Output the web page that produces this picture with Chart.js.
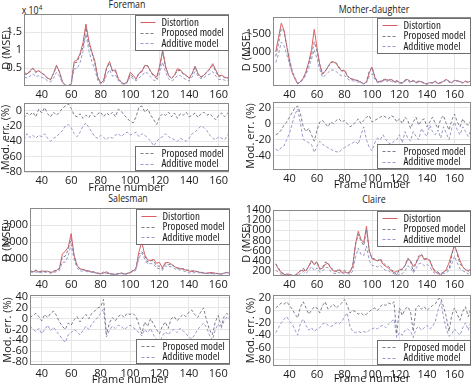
<!DOCTYPE html>
<html>
<head>
<meta charset="utf-8">
<script src="https://cdn.jsdelivr.net/npm/chart.js@4.4.1/dist/chart.umd.min.js"></script>
<style>
  html, body { margin: 0; padding: 0; background: #fff; overflow: hidden; }
  #wrap { position: relative; width: 474px; height: 384px; overflow: hidden; }
  canvas { position: absolute; }
  .txt { position: absolute; transform: translate(-50%, -50%) scaleX(0.8); white-space: nowrap;
         font-family: 'Open Sans', sans-serif; font-size: 11px; font-weight: 400; color: #1a1a1a; }
</style>
</head>
<body>
<div id="wrap">
  <div class="txt" style="left:127px;top:3px">Foreman</div>
  <div class="txt" style="left:374px;top:8px">Mother-daughter</div>
  <div class="txt" style="left:128px;top:197px">Salesman</div>
  <div class="txt" style="left:374px;top:198px">Claire</div>
  <div class="txt" style="left:32px;top:9px">x 10<sup style="font-size:8px">4</sup></div>
  <canvas id="foremanD"></canvas>
  <canvas id="foremanE"></canvas>
  <canvas id="motherD"></canvas>
  <canvas id="motherE"></canvas>
  <canvas id="salesD"></canvas>
  <canvas id="salesE"></canvas>
  <canvas id="claireD"></canvas>
  <canvas id="claireE"></canvas>
</div>
<script>
// frame numbers (x values)
const framesForeman = [28,30,32,34,36,38,40,42,44,46,48,50,52,54,56,58,60,62,64,66,68,70,72,74,76,78,80,82,84,86,88,90,92,94,96,98,100,102,104,106,108,110,112,114,116,118,120,122,124,126,128,130,132,134,136,138,140,142,144,146,148,150,152,154,156,158,160,162,164,166,168];
const framesRight = [30,32,34,36,38,40,42,44,46,48,50,52,54,56,58,60,62,64,66,68,70,72,74,76,78,80,82,84,86,88,90,92,94,96,98,100,102,104,106,108,110,112,114,116,118,120,122,124,126,128,130,132,134,136,138,140,142,144,146,148,150,152,154,156,158,160,162,164,166,168,170,172];
const framesSales = [32,34,36,38,40,42,44,46,48,50,52,54,56,58,60,62,64,66,68,70,72,74,76,78,80,82,84,86,88,90,92,94,96,98,100,102,104,106,108,110,112,114,116,118,120,122,124,126,128,130,132,134,136,138,140,142,144,146,148,150,152,154,156,158,160,162,164,166,168];
const xTicks = [40, 60, 80, 100, 120, 140, 160];

// Foreman, D in units of 10^4
const foremanDist = [0.38,0.33,0.42,0.50,0.40,0.42,0.36,0.30,0.22,0.18, 0.35,0.58,0.40,0.12,0.02,0.01,0.05,0.68,0.72,0.90, 1.20,1.72,1.25,0.95,0.70,0.25,0.08,0.15,0.50,0.68, 0.42,0.45,0.20,0.10,0.06,0.12,0.38,0.30,0.20,0.35, 0.40,0.58,0.55,0.40,0.30,0.25,0.55,1.00,0.55,0.30, 0.22,0.30,0.48,0.45,0.35,0.30,0.22,0.35,0.55,0.35, 0.25,0.30,0.40,0.48,0.62,0.45,0.28,0.30,0.25,0.22,0.33];
const foremanProp = [0.34,0.32,0.39,0.49,0.37,0.43,0.35,0.31,0.21,0.17, 0.34,0.55,0.39,0.12,0.02,0.01,0.05,0.64,0.66,0.86, 1.08,1.62,1.14,0.93,0.64,0.24,0.08,0.14,0.49,0.64, 0.41,0.41,0.20,0.10,0.06,0.11,0.33,0.25,0.18,0.37, 0.42,0.57,0.56,0.38,0.26,0.21,0.51,0.96,0.52,0.29, 0.20,0.29,0.43,0.43,0.33,0.29,0.20,0.33,0.53,0.32, 0.24,0.29,0.38,0.46,0.57,0.40,0.26,0.29,0.23,0.21,0.34];
const foremanAdd = [0.24,0.23,0.27,0.34,0.26,0.29,0.24,0.21,0.14,0.11, 0.22,0.38,0.28,0.09,0.02,0.01,0.04,0.48,0.48,0.65, 0.96,1.44,0.98,0.68,0.46,0.16,0.05,0.10,0.31,0.45, 0.27,0.31,0.14,0.07,0.04,0.09,0.26,0.21,0.14,0.23, 0.28,0.39,0.35,0.24,0.16,0.15,0.35,0.66,0.39,0.20, 0.14,0.19,0.29,0.29,0.22,0.18,0.14,0.25,0.40,0.27, 0.20,0.23,0.30,0.33,0.40,0.28,0.18,0.19,0.16,0.15,0.24];
const foremanErrProp = [-10,-3,-6,-2,-8,2,-3,4,-4,-8, -2,-6,-2,3,6,9,3,-6,-8,-4, -10,-6,-9,-2,-8,-4,-2,-8,-3,-6, -2,-8,2,-1,-6,-10,-14,-16,-8,5, 6,-2,2,-6,-12,-18,-8,-4,-6,-2, -8,-3,-10,-4,-6,-2,-8,-6,-3,-9, -4,-2,-6,-4,-8,-12,-6,-3,-8,-4,2];
const foremanErrAdd = [-38,-30,-35,-32,-36,-32,-34,-30,-36,-40, -36,-34,-30,-26,-20,-18,-22,-30,-34,-28, -20,-16,-22,-28,-34,-36,-32,-35,-38,-34, -36,-32,-30,-34,-30,-28,-32,-30,-28,-34, -30,-32,-36,-40,-46,-40,-36,-34,-30,-34, -36,-38,-40,-36,-38,-40,-36,-30,-28,-24, -20,-22,-26,-32,-36,-38,-34,-36,-38,-32,-26];

// Mother-daughter
const motherDist = [1000,1400,1820,1620,1150,720,380,200,60,120, 230,420,700,1050,1640,1100,620,340,430,560, 680,700,650,520,430,450,300,220,200,170, 150,110,60,120,380,540,260,110,130,160, 190,160,190,120,150,100,90,160,190,120, 160,100,140,120,80,60,100,90,140,70, 100,130,190,140,90,160,150,130,90,140, 110,150];
const motherProp = [860,1230,1670,1590,1170,780,430,240,70,135, 220,380,660,900,1280,1010,630,355,430,540, 695,700,675,550,440,470,300,210,195,175, 160,110,62,130,420,550,270,117,140,176, 205,170,210,130,153,106,90,173,198,113, 163,108,137,125,85,58,102,97,140,66, 106,143,190,129,94,179,153,125,95,140, 108,156];
const motherAdd = [680,924,1274,1166,920,634,380,224,71,120, 184,328,532,777,1050,792,484,252,310,392, 462,462,423,333,292,315,216,163,152,133, 111,95,58,96,266,356,198,90,104,138, 152,122,141,94,120,86,68,144,156,94, 144,84,112,113,70,50,98,81,120,64, 82,125,167,112,85,163,138,112,86,126, 92,138];
const motherErrProp = [-14,-12,-8,-2,2,8,14,20,22,12, -4,-10,-6,-14,-22,-8,2,4,0,-4, 2,0,4,6,2,4,0,-4,-2,2, 6,0,4,8,10,2,4,6,8,10, 8,6,10,8,2,6,0,8,4,-6, 2,8,-2,4,6,-4,2,8,0,-6, 6,10,0,-8,4,12,2,-4,6,0, -2,4];
const motherErrAdd = [-32,-34,-30,-28,-20,-12,0,12,18,0, -20,-22,-24,-26,-36,-28,-22,-26,-28,-30, -32,-34,-35,-36,-32,-30,-28,-26,-24,-22, -26,-14,-4,-20,-30,-34,-24,-18,-20,-14, -20,-24,-26,-22,-20,-14,-24,-10,-18,-22, -10,-16,-20,-6,-12,-16,-2,-10,-14,-8, -18,-4,-12,-20,-6,2,-8,-14,-4,-10, -16,-8];

// Salesman
const salesDist = [300,240,320,230,300,260,280,200,250,330, 450,1300,1450,1700,2500,1200,620,420,380,320, 290,240,200,150,120,170,250,150,110,100, 130,170,120,140,200,300,420,1400,2000,1250, 950,900,1000,750,800,480,780,800,700,560, 480,440,400,350,300,260,290,250,200,170, 160,200,210,160,140,120,170,200,150];
const salesProp = [306,254,352,239,288,281,286,220,285,350, 423,1118,1160,1564,2200,1176,645,395,388,346, 290,264,228,180,146,231,175,138,112,96, 135,184,122,154,216,330,437,1260,1440,1175, 817,900,900,600,576,413,733,656,700,582, 461,449,432,364,336,302,313,255,224,204, 157,160,147,150,148,103,177,220,153];
const salesAdd = [258,192,243,189,216,208,246,156,210,251, 315,806,812,1190,1850,960,471,294,296,275, 232,216,192,153,132,201,165,117,95,82, 114,146,96,118,176,252,336,1036,1360,1000, 703,738,700,465,432,326,593,560,546,448, 355,361,312,252,198,161,203,200,172,156, 134,140,126,128,126,98,163,208,147];
const salesErrProp = [2,6,10,4,-4,8,2,10,14,6, -6,-14,-20,-8,-12,-2,4,-6,2,8, 0,10,14,20,22,36,-30,-8,2,-4, 4,8,2,10,8,10,4,-10,-28,-6, -14,0,-10,-20,-28,-14,-6,-18,0,4, -4,2,8,4,12,16,8,2,12,20, -2,-20,-30,-6,6,-14,4,10,2];
const salesErrAdd = [-14,-20,-24,-18,-28,-20,-12,-22,-16,-24, -30,-38,-44,-30,-26,-20,-24,-30,-22,-14, -20,-10,-4,2,10,18,-34,-22,-14,-18, -12,-14,-20,-16,-12,-16,-20,-26,-32,-20, -26,-18,-30,-38,-46,-32,-24,-30,-22,-20, -26,-18,-22,-28,-34,-38,-30,-20,-14,-8, -16,-30,-40,-20,-10,-18,-4,4,-2];

// Claire
const claireDist = [330,240,160,130,120,130,110,115,160,200, 220,200,300,400,320,370,240,250,330,350, 250,200,190,220,170,180,160,180,300,730, 980,820,760,1080,600,440,420,400,420,330, 290,260,200,170,190,220,240,300,430,400, 290,350,460,520,420,440,400,260,180,150, 120,170,230,360,540,700,560,400,280,220, 210,230];
const claireProp = [343,259,179,143,137,140,112,108,141,212, 251,208,282,400,339,385,230,270,376,357, 265,220,198,238,190,212,173,173,300,715, 921,787,699,1015,588,449,437,400,445,363, 313,291,220,194,118,229,221,306,456,392, 191,364,497,530,445,440,416,281,198,177, 144,180,207,238,497,728,526,336,274,233, 189,239];
const claireAdd = [211,173,128,112,108,107,86,78,96,160, 189,152,204,288,211,259,173,195,264,266, 185,152,152,172,139,162,154,133,198,467, 647,525,502,691,408,308,302,280,311,251, 209,203,164,146,106,141,144,204,301,264, 162,245,340,354,302,334,280,192,148,150, 137,153,161,209,335,490,358,240,202,176, 143,189];
const claireErrProp = [4,8,12,10,14,8,2,-6,-12,6, 14,4,-6,0,6,4,-4,8,14,2, 6,10,4,8,12,18,8,-4,0,-2, -6,-4,-8,-6,-2,2,4,0,6,10, 8,12,10,14,-38,4,-8,2,6,-2, -34,4,8,2,6,0,4,8,10,18, 20,6,-10,-34,-8,4,-6,-16,-2,6, -10,4];
const claireErrAdd = [-36,-28,-20,-14,-10,-18,-22,-32,-40,-20, -14,-24,-32,-28,-34,-30,-28,-22,-20,-24, -26,-24,-20,-22,-18,-10,-4,-26,-34,-36, -34,-36,-34,-36,-32,-30,-28,-30,-26,-24, -28,-22,-18,-14,-44,-36,-40,-32,-30,-34, -44,-30,-26,-32,-28,-24,-30,-26,-18,0, 14,-10,-30,-42,-38,-30,-36,-40,-28,-20, -32,-18];

const FONT = "'Open Sans', sans-serif";
const INK = '#1a1a1a';
const GRID = '#e6e6e6';
const C_DIST = '#dc5e64', C_PROP = '#7c7c8e', C_ADD = '#9898cc';
const DASH = [3, 2];
const PADT = 12, PADR = 6;

const framePlugin = {
  id: 'frame',
  afterDatasetsDraw(chart) {
    const a = chart.chartArea, ctx = chart.ctx;
    ctx.save();
    ctx.strokeStyle = '#8a8a8a';
    ctx.lineWidth = 1;
    ctx.strokeRect(Math.round(a.left) + 0.5, Math.round(a.top) + 0.5,
                   Math.round(a.right - a.left) - 1, Math.round(a.bottom - a.top) - 1);
    ctx.restore();
  }
};

// legend drawn inside the axes box, like the original figure
function boxLegend(items, corner) {
  return {
    id: 'boxLegend',
    afterDraw(chart) {
      const ctx = chart.ctx, a = chart.chartArea;
      ctx.save();
      ctx.font = 'condensed 11px ' + FONT;
      const rowH = 10.5;
      const tw = Math.max(...items.map(it => ctx.measureText(it.label).width));
      const w = Math.round(26 + tw + 5);
      const h = Math.round(items.length * rowH + 3);
      const x = Math.round(a.right - w - 1) + 0.5;
      const y = corner === 'top' ? Math.round(a.top + 1) + 0.5 : Math.round(a.bottom - h - 2) + 0.5;
      ctx.fillStyle = '#fff';
      ctx.fillRect(x, y, w, h);
      ctx.strokeStyle = '#6e6e6e';
      ctx.lineWidth = 1;
      ctx.strokeRect(x, y, w, h);
      items.forEach((it, i) => {
        const cy = y + 1.5 + rowH * (i + 0.5);
        ctx.strokeStyle = it.color;
        ctx.setLineDash(it.dash || []);
        ctx.beginPath();
        ctx.moveTo(x + 5, Math.round(cy) + 0.5);
        ctx.lineTo(x + 20, Math.round(cy) + 0.5);
        ctx.stroke();
        ctx.setLineDash([]);
        ctx.fillStyle = INK;
        ctx.textBaseline = 'middle';
        ctx.fillText(it.label, x + 26, cy + 0.5);
      });
      ctx.restore();
    }
  };
}

const legendTop = [
  { label: 'Distortion', color: C_DIST },
  { label: 'Proposed model', color: C_PROP, dash: DASH },
  { label: 'Additive model', color: C_ADD, dash: DASH }
];
const legendErr = [
  { label: 'Proposed model', color: C_PROP, dash: DASH },
  { label: 'Additive model', color: C_ADD, dash: DASH }
];

function makePlot(id, p) {
  const cv = document.getElementById(id);
  const w = p.right - p.x0 + PADR;
  const h = p.bottom - p.top + PADT + p.xh;
  cv.width = w; cv.height = h;
  cv.style.left = p.x0 + 'px';
  cv.style.top = (p.top - PADT) + 'px';
  cv.style.width = w + 'px';
  cv.style.height = h + 'px';
  const font = { family: FONT, size: 11, style: 'condensed' };
  new Chart(cv, {
    type: 'line',
    data: {
      labels: p.frames,
      datasets: p.series.map(s => ({
        label: s.label, data: s.data, borderColor: s.color, borderWidth: 1,
        borderDash: s.dash || [], pointRadius: 0, tension: 0, fill: false
      }))
    },
    options: {
      responsive: false,
      animation: false,
      devicePixelRatio: 1,
      layout: { padding: { top: PADT, right: PADR, left: 0, bottom: 0 } },
      plugins: { legend: { display: false }, tooltip: { enabled: false } },
      scales: {
        x: {
          type: 'linear', min: p.xmin, max: p.xmax,
          afterBuildTicks: s => { s.ticks = xTicks.map(v => ({ value: v })); },
          afterFit: s => { s.height = p.xh; },
          grid: { color: GRID, drawTicks: false },
          border: { display: false },
          ticks: { font, color: INK, padding: 2, maxRotation: 0, autoSkip: false, callback: v => String(v) },
          title: { display: !!p.xtitle, text: p.xtitle || '', font, color: INK, padding: 0 }
        },
        y: {
          min: p.ymin, max: p.ymax,
          afterBuildTicks: s => { s.ticks = p.yticks.map(v => ({ value: v })); },
          afterFit: s => { s.width = p.left - p.x0; },
          grid: { color: GRID, drawTicks: false },
          border: { display: false },
          ticks: { font, color: INK, padding: 2, autoSkip: false, callback: v => String(v) },
          title: { display: true, text: p.ytitle, font: { family: FONT, size: 11, style: 'condensed', lineHeight: 1 },
                   color: INK, padding: { top: p.ytpad, bottom: 0 } }
        }
      }
    },
    plugins: [framePlugin, boxLegend(p.legend, p.legendPos)]
  });
}

makePlot('foremanD', {
  x0: 0, left: 24, right: 229, top: 14, bottom: 86, xh: 16,
  xmin: 28, xmax: 167, ymin: 0, ymax: 2, yticks: [0.5, 1, 1.5],
  ytitle: 'D (MSE)', ytpad: 1, frames: framesForeman,
  series: [
    { label: 'Additive model', data: foremanAdd, color: C_ADD, dash: DASH },
    { label: 'Proposed model', data: foremanProp, color: C_PROP, dash: DASH },
    { label: 'Distortion', data: foremanDist, color: C_DIST }
  ],
  legend: legendTop, legendPos: 'top'
});
makePlot('foremanE', {
  x0: 0, left: 24, right: 229, top: 103, bottom: 172, xh: 22, xtitle: 'Frame number',
  xmin: 28, xmax: 167, ymin: -80, ymax: 10, yticks: [-80, -60, -40, -20, 0],
  ytitle: 'Mod. err. (%)', ytpad: 0, frames: framesForeman,
  series: [
    { label: 'Proposed model', data: foremanErrProp, color: C_PROP, dash: DASH },
    { label: 'Additive model', data: foremanErrAdd, color: C_ADD, dash: DASH }
  ],
  legend: legendErr, legendPos: 'bottom'
});
makePlot('motherD', {
  x0: 238, left: 273, right: 471, top: 17, bottom: 86, xh: 16,
  xmin: 28, xmax: 172, ymin: 0, ymax: 2000, yticks: [500, 1000, 1500],
  ytitle: 'D (MSE)', ytpad: 3.5, frames: framesRight,
  series: [
    { label: 'Additive model', data: motherAdd, color: C_ADD, dash: DASH },
    { label: 'Proposed model', data: motherProp, color: C_PROP, dash: DASH },
    { label: 'Distortion', data: motherDist, color: C_DIST }
  ],
  legend: legendTop, legendPos: 'top'
});
makePlot('motherE', {
  x0: 238, left: 273, right: 471, top: 102, bottom: 170, xh: 21, xtitle: 'Frame number',
  xmin: 28, xmax: 172, ymin: -58, ymax: 27, yticks: [-40, -20, 0, 20],
  ytitle: 'Mod. err. (%)', ytpad: 7, frames: framesRight,
  series: [
    { label: 'Proposed model', data: motherErrProp, color: C_PROP, dash: DASH },
    { label: 'Additive model', data: motherErrAdd, color: C_ADD, dash: DASH }
  ],
  legend: legendErr, legendPos: 'bottom'
});
makePlot('salesD', {
  x0: 0, left: 30, right: 230, top: 208, bottom: 276, xh: 16,
  xmin: 32, xmax: 168, ymin: 0, ymax: 4000, yticks: [1000, 2000, 3000],
  ytitle: 'D (MSE)', ytpad: 1, frames: framesSales,
  series: [
    { label: 'Additive model', data: salesAdd, color: C_ADD, dash: DASH },
    { label: 'Proposed model', data: salesProp, color: C_PROP, dash: DASH },
    { label: 'Distortion', data: salesDist, color: C_DIST }
  ],
  legend: legendTop, legendPos: 'top'
});
makePlot('salesE', {
  x0: 0, left: 30, right: 230, top: 295, bottom: 365, xh: 21, xtitle: 'Frame number',
  xmin: 32, xmax: 168, ymin: -86, ymax: 44, yticks: [-80, -60, -40, -20, 0, 20, 40],
  ytitle: 'Mod. err. (%)', ytpad: 2.5, frames: framesSales,
  series: [
    { label: 'Proposed model', data: salesErrProp, color: C_PROP, dash: DASH },
    { label: 'Additive model', data: salesErrAdd, color: C_ADD, dash: DASH }
  ],
  legend: legendErr, legendPos: 'bottom'
});
makePlot('claireD', {
  x0: 238, left: 273, right: 471, top: 210, bottom: 276, xh: 16,
  xmin: 28, xmax: 172, ymin: 100, ymax: 1400, yticks: [200, 400, 600, 800, 1000, 1200, 1400],
  ytitle: 'D (MSE)', ytpad: 3.5, frames: framesRight,
  series: [
    { label: 'Additive model', data: claireAdd, color: C_ADD, dash: DASH },
    { label: 'Proposed model', data: claireProp, color: C_PROP, dash: DASH },
    { label: 'Distortion', data: claireDist, color: C_DIST }
  ],
  legend: legendTop, legendPos: 'top'
});
makePlot('claireE', {
  x0: 238, left: 273, right: 471, top: 295, bottom: 366, xh: 19, xtitle: 'Frame number',
  xmin: 28, xmax: 172, ymin: -90, ymax: 25, yticks: [-80, -60, -40, -20, 0, 20],
  ytitle: 'Mod. err. (%)', ytpad: 7, frames: framesRight,
  series: [
    { label: 'Proposed model', data: claireErrProp, color: C_PROP, dash: DASH },
    { label: 'Additive model', data: claireErrAdd, color: C_ADD, dash: DASH }
  ],
  legend: legendErr, legendPos: 'bottom'
});
</script>
</body>
</html>
